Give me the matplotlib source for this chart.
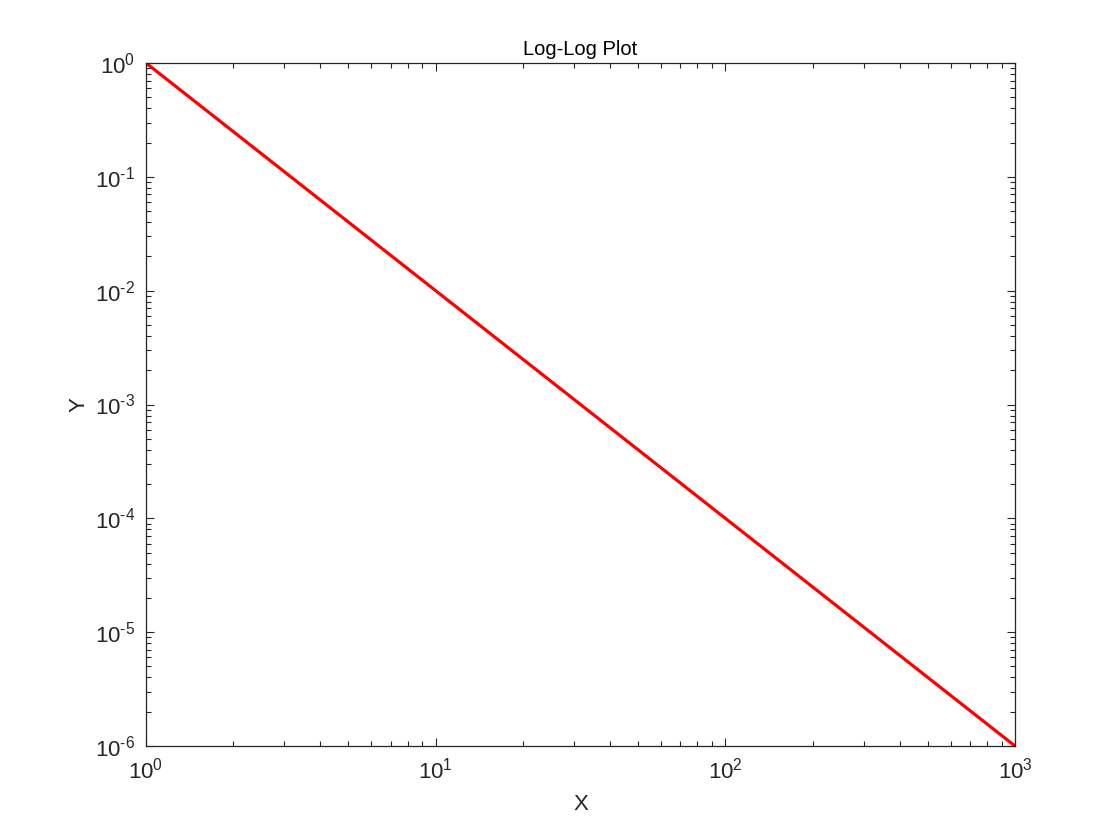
import matplotlib
matplotlib.use("Agg")
import matplotlib.pyplot as plt
from matplotlib.ticker import FuncFormatter, NullFormatter
import math

x_values = [1, 10, 100, 1000]
y_values = [1, 1e-2, 1e-4, 1e-6]

plt.rcParams['font.family'] = ['Liberation Sans', 'DejaVu Sans']
plt.rcParams['mathtext.fontset'] = 'custom'
plt.rcParams['mathtext.rm'] = 'Liberation Sans'
plt.rcParams['mathtext.it'] = 'Liberation Sans'
plt.rcParams['axes.unicode_minus'] = False

def fmt(v, pos):
    e = int(round(math.log10(v)))
    s = str(e).replace('-', '\u2010')
    return r'$\mathrm{10^{%s}}$' % s

dark = (0.15, 0.15, 0.15)
fig = plt.figure(figsize=(11.2, 8.4), dpi=100)
ax = fig.add_axes([146/1120, 94/840, (1015-146)/1120, (746-63)/840])
ax.loglog(x_values, y_values, color='red', lw=2.3, solid_capstyle='round')
ax.set_xlim(1, 1000)
ax.set_ylim(1e-6, 1)
ax.xaxis.set_major_formatter(FuncFormatter(fmt))
ax.yaxis.set_major_formatter(FuncFormatter(fmt))
ax.xaxis.set_minor_formatter(NullFormatter())
ax.yaxis.set_minor_formatter(NullFormatter())
ax.set_title('Log-Log Plot', fontsize=14.5, color='black', pad=6)
ax.set_xlabel('X', fontsize=16, color=dark, labelpad=8)
ax.set_ylabel('Y', fontsize=16, color=dark, labelpad=4)
ax.tick_params(which='both', direction='in', top=True, right=True, colors=dark, labelsize=16)
ax.tick_params(which='major', length=6, width=0.8, pad=8)
ax.tick_params(which='minor', length=3.5, width=0.8)
for s in ax.spines.values():
    s.set_color(dark)
    s.set_linewidth(0.9)
fig.savefig('out.png', dpi=100)
